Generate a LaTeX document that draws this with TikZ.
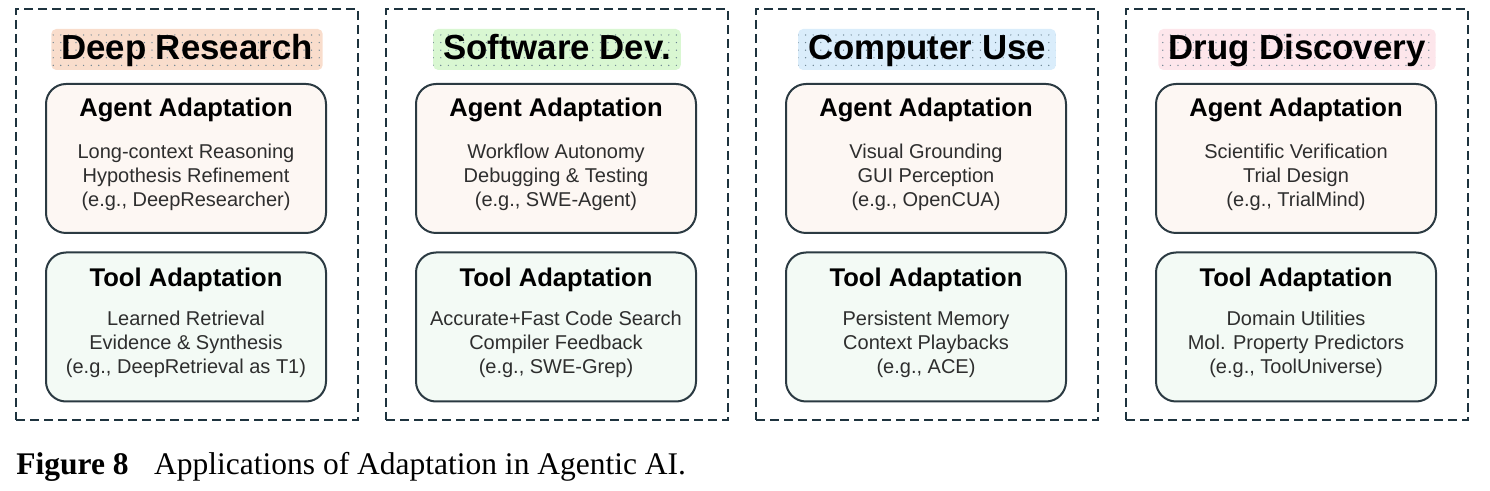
\documentclass[tikz,border=0pt]{standalone}
\usepackage{fontspec}
\setmainfont{Liberation Serif}
\setsansfont{Liberation Sans}
\usetikzlibrary{calc,patterns.meta}
\definecolor{edge}{HTML}{2B3A42}
\definecolor{dashc}{HTML}{1E333E}
\definecolor{agentfill}{HTML}{FDF7F3}
\definecolor{toolfill}{HTML}{F3FAF5}
\definecolor{bodytext}{HTML}{2E2E2E}
\definecolor{hlA}{HTML}{F9DDCC}
\definecolor{hlB}{HTML}{D9F7D2}
\definecolor{hlC}{HTML}{DAEDFB}
\definecolor{hlD}{HTML}{FDE6EB}
\definecolor{dotc}{HTML}{6A8290}
\tikzset{
  panel/.style={draw=dashc, line width=1.25pt, dash pattern=on 4.5pt off 2.5pt,
    minimum width=171pt, minimum height=205.5pt, inner sep=0pt},
  hltitle/.style={font=\sffamily\bfseries\fontsize{17.4}{20}\selectfont, text=black,
    rounded corners=2.5pt, inner xsep=5pt, inner ysep=0pt,
    text height=15.5pt, text depth=5pt,
    postaction={pattern={Dots[distance=3.8pt, radius=0.35pt]}, pattern color=dotc}},
  card/.style={draw=edge, line width=1pt, rounded corners=10pt,
    minimum width=140pt, minimum height=74.5pt, inner sep=0pt},
  agentcard/.style={card, fill=agentfill},
  toolcard/.style={card, fill=toolfill},
  cardtitle/.style={font=\sffamily\bfseries\fontsize{12.8}{15}\selectfont, text=black},
  cardbody/.style={font=\sffamily\fontsize{10}{12}\selectfont, text=bodytext, align=center},
  caption/.style={font=\rmfamily\fontsize{15.75}{18}\selectfont, anchor=base west, inner sep=0pt}
}
\begin{document}
\begin{tikzpicture}[x=0.5pt, y=-0.5pt]
\useasboundingbox (0,0) rectangle (1490,491);
\foreach \cx/\name/\ttl/\hl/\aone/\atwo/\athree/\tone/\ttwo/\tthree in {
  187/p1/{Deep Research}/hlA/{Long-context Reasoning}/{Hypothesis Refinement}/{(e.g., DeepResearcher)}/{Learned Retrieval}/{Evidence \& Synthesis}/{(e.g., DeepRetrieval as T1)},
  557/p2/{Software Dev.}/hlB/{Workflow Autonomy}/{Debugging \& Testing}/{(e.g., SWE-Agent)}/{Accurate+Fast Code Search}/{Compiler Feedback}/{(e.g., SWE-Grep)},
  927/p3/{Computer Use}/hlC/{Visual Grounding}/{GUI Perception}/{(e.g., OpenCUA)}/{Persistent Memory}/{Context Playbacks}/{(e.g., ACE)},
  1297/p4/{Drug Discovery}/hlD/{Scientific Verification}/{Trial Design}/{(e.g., TrialMind)}/{Domain Utilities}/{Mol. Property Predictors}/{(e.g., ToolUniverse)}}
{
  \node[panel] (\name) at (\cx,214.5) {};
  \node[hltitle, fill=\hl] (\name-title) at (\cx,49.5) {\ttl};
  \node[agentcard] (\name-agent) at (\cx-1,158.5) {};
  \node[cardtitle] (\name-agent-title) at ($(\name-agent.north)+(0,27)$) {Agent Adaptation};
  \node[cardbody] (\name-agent-body) at ($(\name-agent.north)+(0,94.5)$) {\aone\\\atwo\\\athree};
  \node[toolcard] (\name-tool) at (\cx-1,327) {};
  \node[cardtitle] (\name-tool-title) at ($(\name-tool.north)+(0,28)$) {Tool Adaptation};
  \node[cardbody] (\name-tool-body) at ($(\name-tool.north)+(0,93)$) {\tone\\\ttwo\\\tthree};
}
\node[caption] (cap) at (16,475) {\textbf{Figure 8}\hspace{12.75pt}Applications of Adaptation in Agentic AI.};
\end{tikzpicture}
\end{document}
